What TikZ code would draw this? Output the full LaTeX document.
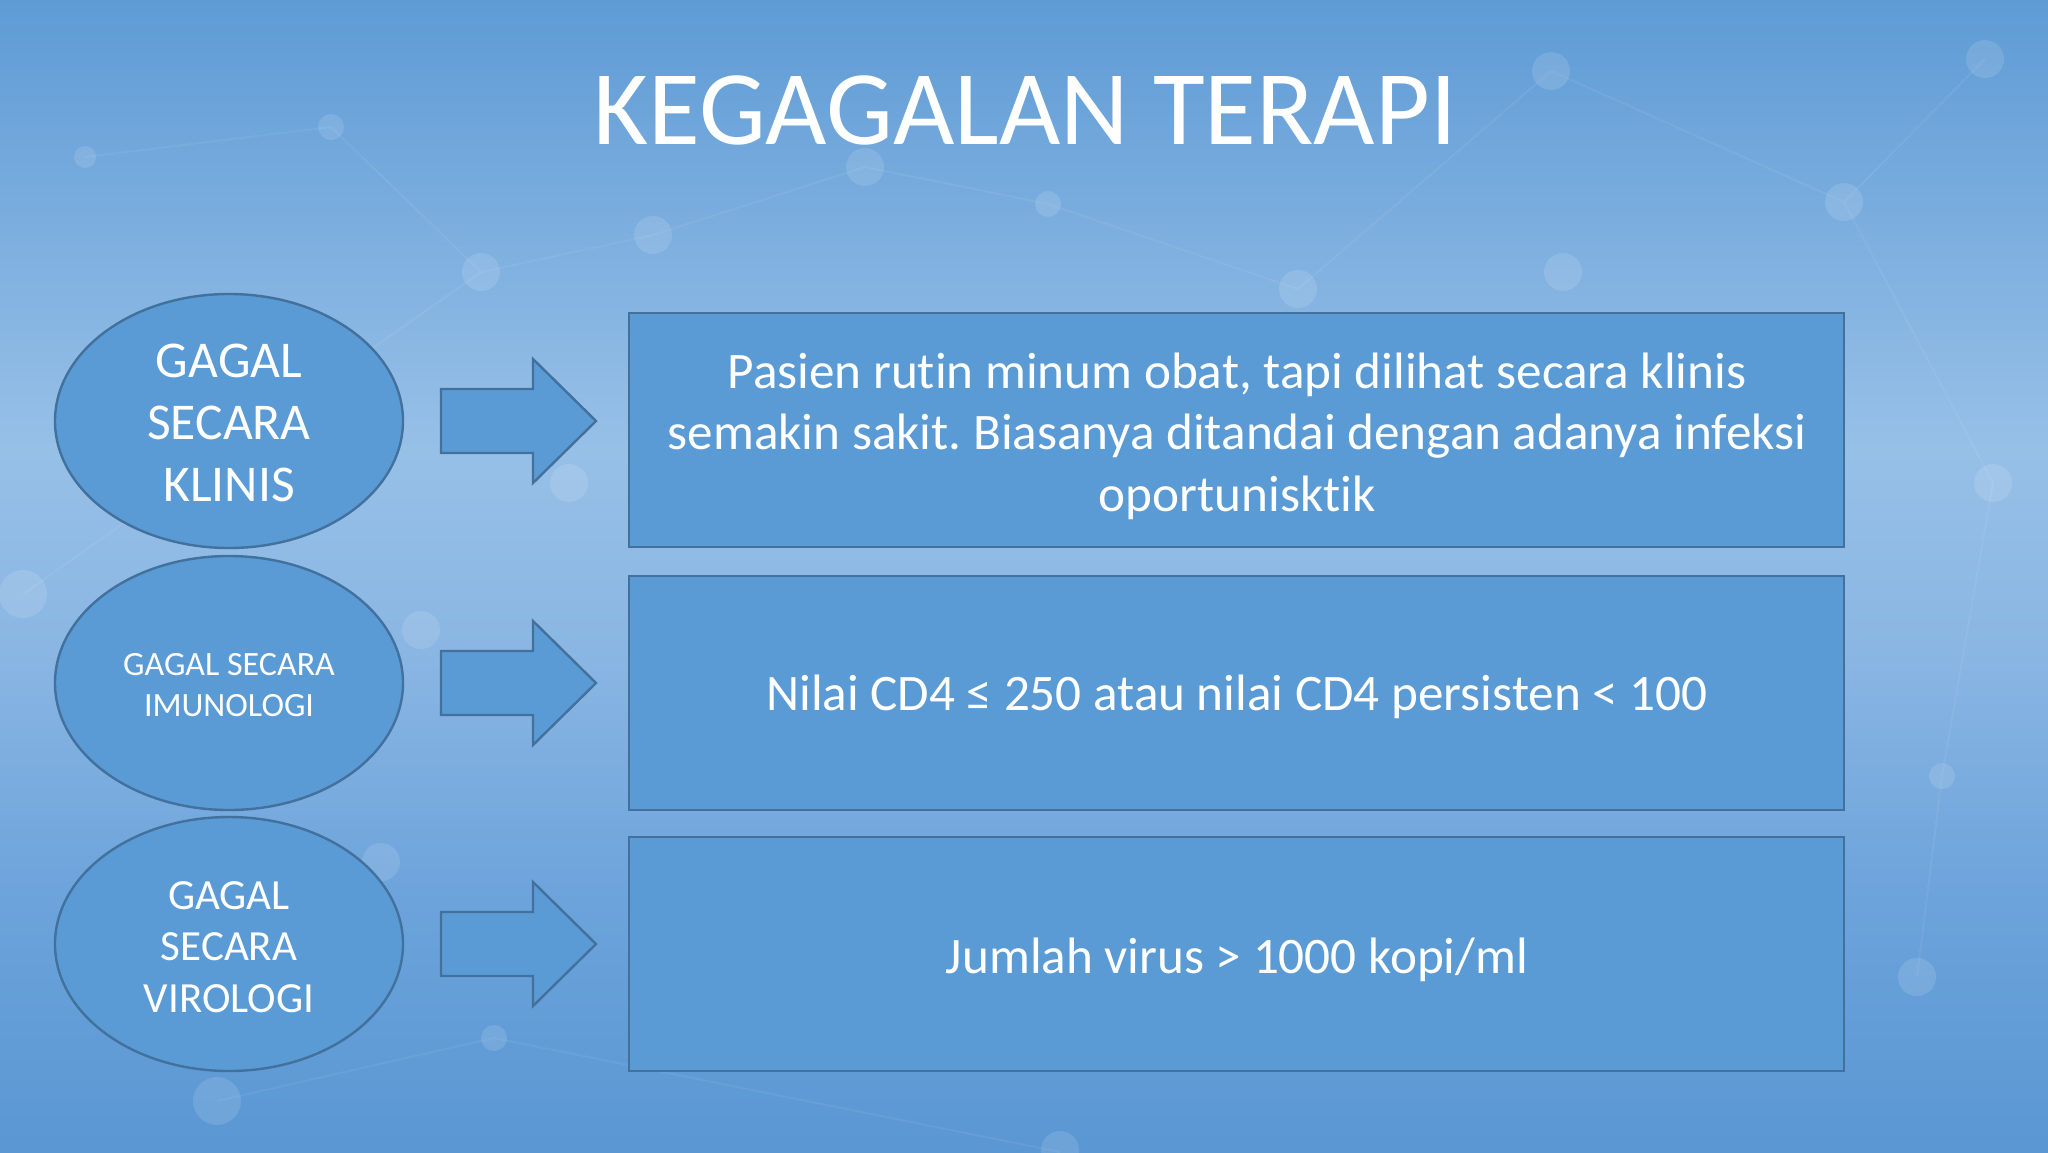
\documentclass[tikz,border=0pt]{standalone}
\usepackage{fontspec}
\setmainfont[Ligatures={NoCommon}]{Carlito}
\frenchspacing
\definecolor{shapefill}{HTML}{5B9BD5}
\definecolor{shapeline}{HTML}{41719C}
\definecolor{bgA}{HTML}{5E9BD5}
\definecolor{bgB}{HTML}{7FB0E0}
\definecolor{bgC}{HTML}{97C0E7}
\definecolor{bgD}{HTML}{8AB6E3}
\definecolor{bgE}{HTML}{6CA3DB}
\definecolor{bgF}{HTML}{5A97D3}
\pgfdeclareverticalshading{slidebg}{100bp}{color(0bp)=(bgF); color(25bp)=(bgF); color(35.9bp)=(bgE); color(46.8bp)=(bgD); color(55.5bp)=(bgC); color(64.1bp)=(bgB); color(75bp)=(bgA); color(100bp)=(bgA)}
\tikzset{
  shp/.style={fill=shapefill, draw=shapeline, line width=1.2pt},
  txt/.style={text=white, align=center, inner sep=0pt},
  bubble/.style={fill=white, fill opacity=0.12, draw=none},
  web/.style={draw=white, opacity=0.06, line width=1pt},
}
\begin{document}
\begin{tikzpicture}[x=0.5pt, y=-0.5pt]
\useasboundingbox (0,0) rectangle (2048,1152);
\shade[shading=slidebg] (0,0) rectangle (2048,1152);
% faint background network
\draw[web] (85,157) -- (331,127) -- (481,272) -- (653,235) -- (865,167) -- (1048,204) -- (1298,289) -- (1551,71) -- (1844,202) -- (1985,59);
\draw[web] (23,594) -- (481,272);
\draw[web] (1844,202) -- (1993,483) -- (1942,776) -- (1917,977);
\draw[web] (217,1101) -- (494,1038) -- (1060,1152);
\foreach \cx/\cy/\r in {85/157/11, 331/127/13, 481/272/19, 653/235/19, 865/167/19, 1048/204/13, 1298/289/19, 1551/71/19, 1563/272/19, 1844/202/19, 1985/59/19, 1993/483/19, 23/594/24, 1942/776/13, 1917/977/19, 494/1038/13, 217/1101/24, 569/483/19, 421/630/19, 381/862/19, 1060/1150/19}
  \fill[bubble] (\cx,\cy) circle (\r);
% title
\node[txt, font=\fontsize{53}{58}\selectfont, anchor=base] (title) at (1025,144) {KEGAGALAN TERAPI};
% ellipses
\draw[shp] (229,421) ellipse (174 and 127);
\draw[shp] (229,683) ellipse (174 and 127);
\draw[shp] (229,944) ellipse (174 and 127);
\node[txt, font=\fontsize{25.8}{30.8}\selectfont] (e1) at (229,423) {GAGAL\\SECARA\\KLINIS};
\node[txt, font=\fontsize{17}{20.5}\selectfont] (e2) at (229,685) {GAGAL SECARA\\IMUNOLOGI};
\node[txt, font=\fontsize{21.5}{25.7}\selectfont] (e3) at (229,947) {GAGAL\\SECARA\\VIROLOGI};
% block arrows
\foreach \ay/\nm in {421/a1, 683/a2, 944/a3}
  \draw[shp] (441,\ay-32) -- (533,\ay-32) -- (533,\ay-62) -- (596,\ay) -- (533,\ay+62) -- (533,\ay+32) -- (441,\ay+32) -- cycle;
% boxes
\draw[shp] (629,313) rectangle (1844,547);
\draw[shp] (629,576) rectangle (1844,810);
\draw[shp] (629,837) rectangle (1844,1071);
\node[txt, font=\fontsize{25.6}{30.8}\selectfont] (b1) at (1237,436) {Pasien rutin minum obat, tapi dilihat secara klinis\\semakin sakit. Biasanya ditandai dengan adanya infeksi\\oportunisktik};
\node[txt, font=\fontsize{25.6}{30.8}\selectfont] (b2) at (1237,697) {Nilai CD4 ≤ 250 atau nilai CD4 persisten < 100};
\node[txt, font=\fontsize{25.6}{30.8}\selectfont] (b3) at (1237,960) {Jumlah virus > 1000 kopi/ml};
\end{tikzpicture}
\end{document}
